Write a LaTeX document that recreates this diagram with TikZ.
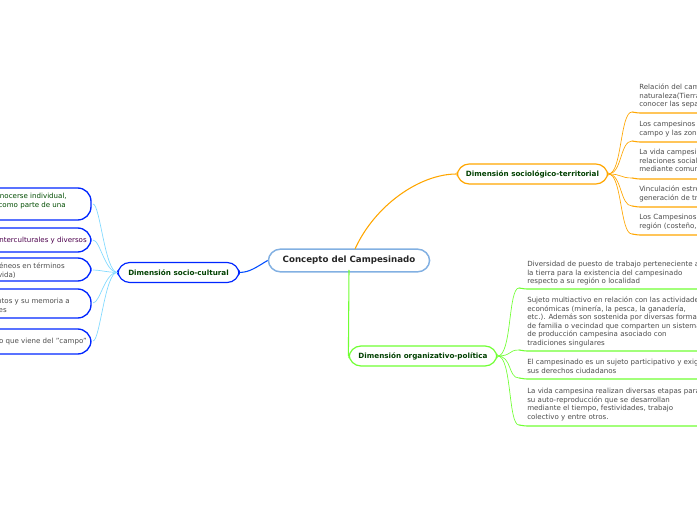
\documentclass[tikz,border=0pt]{standalone}
\usepackage{fontspec}
\setmainfont{DejaVu Sans}
\begin{document}
\begin{tikzpicture}[x=0.75pt,y=-0.75pt,
  hub/.style={draw,rounded corners=9pt,line width=0.9pt,fill=white,font=\fontsize{5.4}{6.5}\bfseries,text=green!25!black,inner sep=0pt,minimum height=15pt},
  lf/.style={anchor=base west,font=\fontsize{5.3}{6}\selectfont,text=black!70,inner sep=0pt},
  lfe/.style={anchor=base east,font=\fontsize{5.3}{6}\selectfont,text=black!70,inner sep=0pt},
  cor/.style={draw=orange!70!yellow,line width=0.5pt},
  cog/.style={draw=green!60!lime!80!white,line width=0.5pt},
  cob/.style={draw=blue!70!cyan,line width=0.5pt},
  bbox/.style={draw=blue!85!cyan,line width=1pt,rounded corners=10pt}]
\useasboundingbox (0,0) rectangle (697,520);
\clip (0,0) rectangle (697,520);
% hubs
\node[hub,draw=cyan!60!blue!50,line width=1.1pt,minimum width=121pt,minimum height=17pt,font=\fontsize{6.5}{8}\bfseries,text=black!85] (c) at (349,260.5) {Concepto del Campesinado};
\node[hub,draw=orange!70!yellow,minimum width=113pt] (o) at (532.5,174) {Dimensión sociológico-territorial};
\node[hub,draw=green!60!lime!80!white,minimum width=111pt] (g) at (423,356) {Dimensión organizativo-política};
\node[hub,draw=blue!85!cyan,minimum width=91pt] (b) at (178.5,272.5) {Dimensión socio-cultural};
% main connectors
\draw[cor,line width=0.8pt] (355,249) .. controls (375,205) and (420,174) .. (o.west);
\draw[cog,line width=0.8pt] (349,270) -- (g.west);
\draw[cob,line width=0.8pt] (c.west) .. controls (255,268) and (250,272) .. (b.east);
% orange leaves
\foreach \y in {112,141,178,206,234}{
  \coordinate (ol\y) at (632,\y);
  \draw[cor] (o.east) .. controls (622,174) and (620,\y) .. (ol\y);
  \draw[cor,line width=0.8pt] (ol\y) .. controls (634,\y) and (636,\y+1) .. (640,\y+1) -- (700,\y+1);
}
\node[lf] at (639,90) {Relación del campesino con la};
\node[lf] at (639,98.5) {naturaleza(Tierra) al};
\node[lf] at (639,107) {conocer las separaciones};
\node[lf] at (639,127) {Los campesinos entre el};
\node[lf] at (639,135.5) {campo y las zonas};
\node[lf] at (639,155) {La vida campesina se};
\node[lf] at (639,163.5) {relaciones sociales};
\node[lf] at (639,172) {mediante  comunidades};
\node[lf] at (639,192) {Vinculación estrecha};
\node[lf] at (639,200.5) {generación de tradiciones};
\node[lf] at (639,220) {Los Campesinos según su};
\node[lf] at (639,228.5) {región (costeño, llanero)};
% green leaves
\foreach \y in {288,350,378,425}{
  \coordinate (gl\y) at (519,\y);
  \draw[cog] (g.east) .. controls (512,356) and (508,\y) .. (gl\y);
  \draw[cog,line width=0.8pt] (gl\y) .. controls (521,\y) and (523,\y+1) .. (527,\y+1) -- (700,\y+1);
}
\node[lf] at (527,267) {Diversidad de puesto de trabajo perteneciente a};
\node[lf] at (527,275.5) {la tierra para la existencia del campesinado};
\node[lf] at (527,284) {respecto a su región o localidad};
\node[lf] at (527,303) {Sujeto multiactivo en relación con las actividades};
\node[lf] at (527,311.5) {económicas (minería, la pesca, la ganadería,};
\node[lf] at (527,320) {etc.). Además son sostenida por  diversas formas};
\node[lf] at (527,328.5) {de familia o vecindad que comparten un sistema};
\node[lf] at (527,337) {de producción campesina asociado con};
\node[lf] at (527,345.5) {tradiciones singulares};
\node[lf] at (527,365) {El campesinado es un sujeto participativo y exige};
\node[lf] at (527,373.5) {sus derechos ciudadanos};
\node[lf] at (527,394) {La vida campesina realizan diversas etapas para};
\node[lf] at (527,402.5) {su auto-reproducción que se desarrollan};
\node[lf] at (527,411) {mediante el tiempo, festividades, trabajo};
\node[lf] at (527,419.5) {colectivo y entre otros.};
% blue boxes
\foreach \t/\bt/\r/\ey in {188/220/91/204,228/252/91/240,258/281/91/270,289/318/91/303,329/354/91/341}{
  \draw[bbox] (-30,\t) rectangle (\r,\bt);
  \coordinate (bl\t) at (\r+2,\ey);
  \draw[cob,draw=blue!30!cyan!50] (b.west) .. controls (105,272) and (100,\ey) .. (bl\t);
}
\node[lfe,text=green!30!black] at (67,199) {Reconocerse individual,};
\node[lfe,text=green!30!black] at (66,208) {y como parte de una};
\node[lfe,text=violet!60!black] at (87,243) {Interculturales y diversos};
\node[lfe] at (65,269) {heterogéneos en términos};
\node[lfe] at (16,277.5) {de vida)};
\node[lfe] at (70,304) {conocimientos y su memoria a};
\node[lfe] at (7,312.5) {generaciones};
\node[lfe] at (87,344) {lo que viene del "campo"};
\end{tikzpicture}
\end{document}
